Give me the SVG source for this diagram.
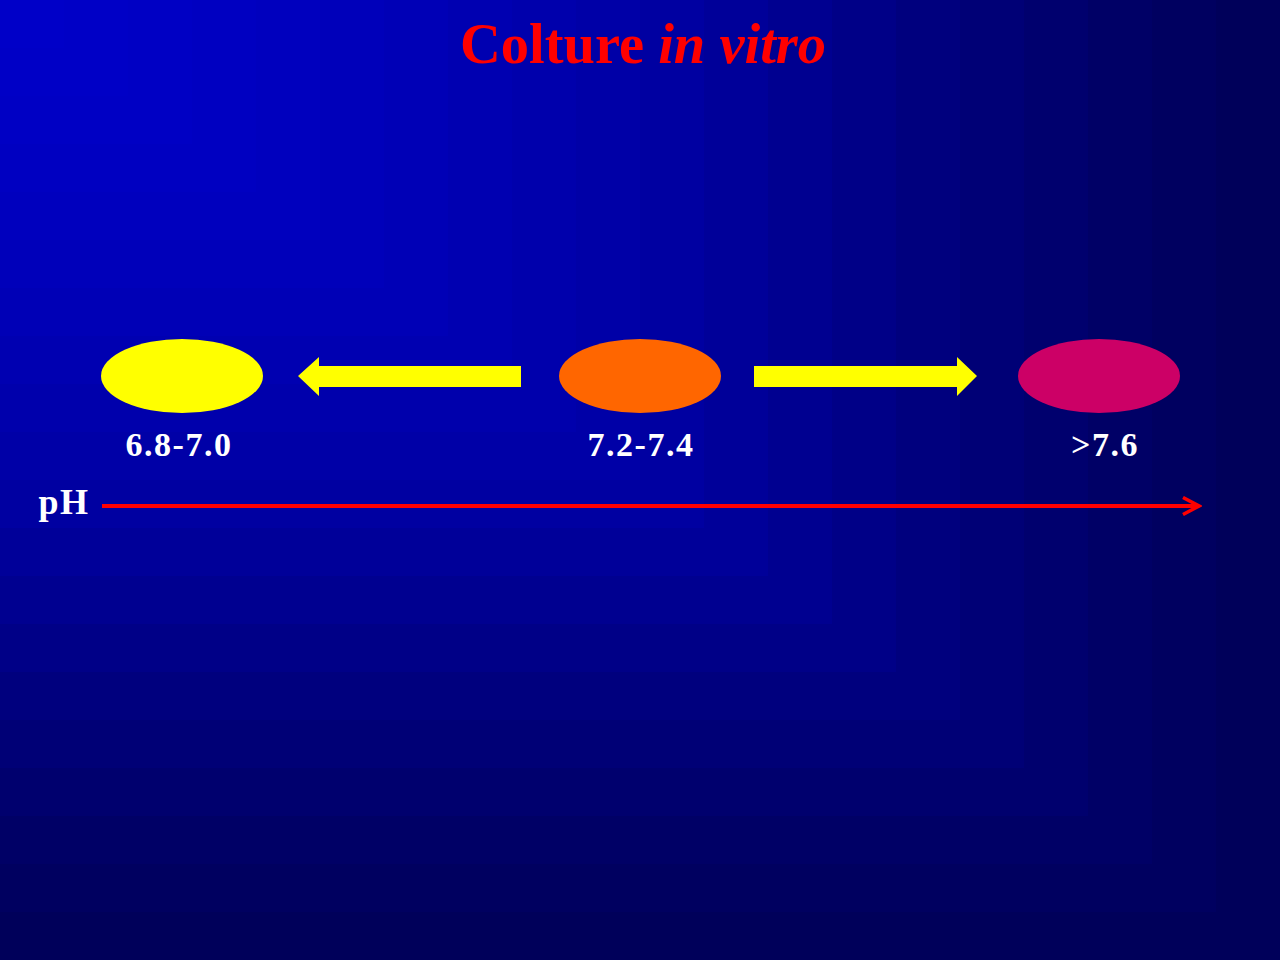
<svg xmlns="http://www.w3.org/2000/svg" width="1280" height="960" viewBox="0 0 1280 960">
<style>
.lbl{font-family:"Liberation Serif","Times New Roman",serif;font-weight:bold;fill:#FFFFFF;font-size:34px;letter-spacing:1.5px;text-anchor:middle}
.title{font-family:"Liberation Serif","Times New Roman",serif;font-weight:bold;fill:#FF0000;font-size:56.5px;text-anchor:middle}
.arrow{fill:#FFFF00}
</style>
<defs>
<marker id="open" viewBox="0 0 20 20" refX="17" refY="10" markerWidth="20" markerHeight="20" markerUnits="userSpaceOnUse" orient="auto">
<path d="M1,1.5 L17,10 L1,18.5" fill="none" stroke="#FF0000" stroke-width="3.5"/>
</marker>
</defs>
<g id="background">
<rect x="0" y="0" width="1280" height="960" fill="#00005A"/>
<rect x="0" y="0" width="1216" height="912" fill="#000060"/>
<rect x="0" y="0" width="1152" height="864" fill="#000066"/>
<rect x="0" y="0" width="1088" height="816" fill="#00006E"/>
<rect x="0" y="0" width="1024" height="768" fill="#000076"/>
<rect x="0" y="0" width="960" height="720" fill="#00007E"/>
<rect x="0" y="0" width="896" height="672" fill="#000087"/>
<rect x="0" y="0" width="832" height="624" fill="#000090"/>
<rect x="0" y="0" width="768" height="576" fill="#000099"/>
<rect x="0" y="0" width="704" height="528" fill="#0000A1"/>
<rect x="0" y="0" width="640" height="480" fill="#0000A7"/>
<rect x="0" y="0" width="576" height="432" fill="#0000AC"/>
<rect x="0" y="0" width="512" height="384" fill="#0000B1"/>
<rect x="0" y="0" width="448" height="336" fill="#0000B6"/>
<rect x="0" y="0" width="384" height="288" fill="#0000BA"/>
<rect x="0" y="0" width="320" height="240" fill="#0000BE"/>
<rect x="0" y="0" width="256" height="192" fill="#0000C1"/>
<rect x="0" y="0" width="192" height="144" fill="#0000C4"/>
<rect x="0" y="0" width="128" height="96" fill="#0000C6"/>
<rect x="0" y="0" width="64" height="48" fill="#0000C8"/>
</g>
<g id="title">
<text class="title" x="643" y="63">Colture <tspan font-style="italic">in vitro</tspan></text>
</g>
<g id="node-acid">
<ellipse cx="182" cy="376" rx="81" ry="37" fill="#FFFF00"/>
<text class="lbl" x="179" y="456">6.8-7.0</text>
</g>
<g id="node-neutral">
<ellipse cx="640" cy="376" rx="81" ry="37" fill="#FF6600"/>
<text class="lbl" x="641" y="456">7.2-7.4</text>
</g>
<g id="node-basic">
<ellipse cx="1099" cy="376" rx="81" ry="37" fill="#CC0066"/>
<text class="lbl" x="1105" y="456">&gt;7.6</text>
</g>
<g id="connectors">
<polygon class="arrow" points="298,376 319,357 319,366 521,366 521,387 319,387 319,396"/>
<polygon class="arrow" points="977,376 957,357 957,366 754,366 754,387 957,387 957,396"/>
<line x1="102" y1="506" x2="1199" y2="506" stroke="#FF0000" stroke-width="4" marker-end="url(#open)"/>
</g>
<g id="axis-label">
<text class="lbl" x="64" y="514" style="font-size:36px">pH</text>
</g>
</svg>
